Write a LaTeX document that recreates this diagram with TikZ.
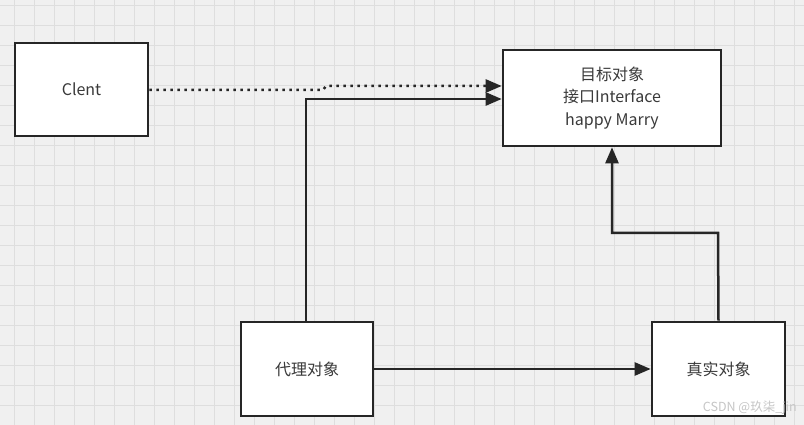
\documentclass[tikz,border=0pt]{standalone}
\usepackage{fontspec}
\setmainfont{Noto Sans CJK SC}
\usetikzlibrary{arrows.meta}
\definecolor{bgc}{HTML}{F0F0F0}
\definecolor{gridc}{HTML}{DEDEDE}
\definecolor{linec}{HTML}{262626}
\definecolor{txtc}{HTML}{3A3A3A}
\begin{document}
\begin{tikzpicture}[x=1pt,y=-1pt,
  box/.style={draw=linec,line width=2.6pt,fill=white,inner sep=0pt,
    font=\fontsize{16}{22.5}\selectfont,text=txtc,align=center},
  conn/.style={draw=linec,line width=2.5pt,
    -{Triangle[length=16pt,width=13pt]}},
  dotconn/.style={conn,dash pattern=on 2.6pt off 4.4pt}]
\useasboundingbox (0,0) rectangle (804,425);
\fill[bgc] (0,0) rectangle (804,425);
\foreach \i in {0,...,40} \draw[gridc,line width=0.8pt] (14+20*\i,0) -- (14+20*\i,425);
\foreach \j in {0,...,21} \draw[gridc,line width=0.8pt] (0,5+20*\j) -- (804,5+20*\j);
\node[box,minimum width=133pt,minimum height=93pt] (clent) at (81.5,89.5) {Clent};
\node[box,minimum width=218pt,minimum height=96pt] (target) at (612,98) {目标对象\\接口Interface\\happy Marry};
\node[box,minimum width=132pt,minimum height=94pt] (proxy) at (307,369) {代理对象};
\node[box,minimum width=133pt,minimum height=94pt] (real) at (718.5,369) {真实对象};
\coordinate (d1) at (323,90);
\coordinate (d2) at (326,86);
\coordinate (s1) at (306,99);
\coordinate (r1) at (718,233);
\coordinate (r2) at (612,233);
\draw[dotconn] (clent.east |- d1) -- (d1) -- (d2) -- (target.west |- d2);
\draw[conn] (proxy.north -| s1) -- (s1) -- (target.west |- s1);
\draw[conn] (proxy.east) -- (real.west);
\draw[conn] (real.north) -- (r1) -- (r2) -- (target.south -| r2);
\node[text=gray!45,font=\fontsize{12.5}{14}\selectfont,anchor=east,inner sep=0pt] (wm) at (797,408) {CSDN @玖柒\_jin};
\end{tikzpicture}
\end{document}
